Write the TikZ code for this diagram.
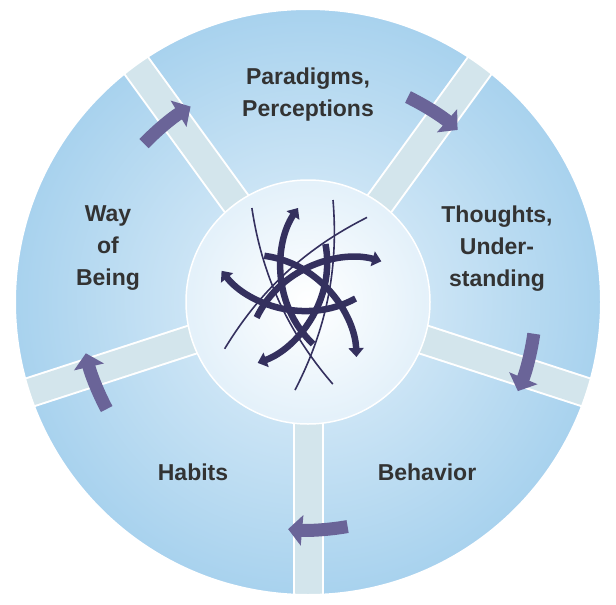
\documentclass[tikz,border=0pt]{standalone}
\usepackage{fontspec}
\setmainfont{Liberation Sans}
\usetikzlibrary{arrows.meta,calc}
\definecolor{seg}{HTML}{A8D2EE}
\definecolor{segin}{HTML}{E4F1FA}
\definecolor{band}{HTML}{D3E5EC}
\definecolor{arr}{HTML}{6A6498}
\definecolor{swirl}{HTML}{34305E}
\definecolor{txt}{HTML}{333333}
\tikzset{lab/.style={font=\fontsize{23}{32}\selectfont\bfseries, text=txt, align=center},
 ringarrow/.style={draw=arr, line width=13pt, -{Triangle[length=14pt,width=30pt]}},
 swirlthick/.style={draw=swirl, line width=6.5pt, -{Triangle[length=9pt,width=15pt]}},
 swirlthin/.style={draw=swirl, line width=1.6pt}}
\begin{document}
\begin{tikzpicture}[x=1pt,y=-1pt]
\useasboundingbox (0,0) rectangle (616,605);
\fill[white] (0,0) rectangle (616,605);
\coordinate (c) at (308,302);
% ring
\begin{scope}
\clip (c) circle (293);
\shade[inner color=segin, outer color=seg] (c) circle (293);
\foreach \a in {54,-18,-90,198,126}{
  \draw[white, line width=31pt] (c) -- ++(-\a:320);
  \draw[band, line width=27pt] (c) -- ++(-\a:320);
}
\end{scope}
\draw[white, line width=2pt] (c) circle (293);
% centre
\shade[inner color=white, outer color=segin, draw=white, line width=1.5pt] (c) circle (122);
\shade[inner color=white, outer color=segin] (c) circle (118);
% ring arrows (clockwise)
\foreach \a in {54,-18,-90,198,126}{
  \draw[ringarrow] ($(c)+(-\a-10:228)$) arc[start angle=-\a-10, end angle=-\a+5, radius=228];
}
% swirl
\coordinate (s) at (303,292);
\foreach \k in {0,1,2,3,4}{
  \begin{scope}[shift={(s)}, rotate=\k*72]
    \draw[swirlthick] (10,52) .. controls (-32,12) and (-28,-50) .. (-5,-84);
  \end{scope}
}
\foreach \k in {0,2,3}{
  \begin{scope}[shift={(s)}, rotate=\k*72]
    \draw[swirlthin] (30,-92) .. controls (36,-20) and (22,40) .. (-8,98);
  \end{scope}
}
% labels
\node[lab] (p) at (308,95) {Paradigms,\\Perceptions};
\node[lab] (t) at (497,249) {Thoughts,\\Under-\\standing};
\node[lab] (b) at (427,472) {Behavior};
\node[lab] (h) at (193,472) {Habits};
\node[lab] (w) at (108,248) {Way\\of\\Being};
\end{tikzpicture}
\end{document}
